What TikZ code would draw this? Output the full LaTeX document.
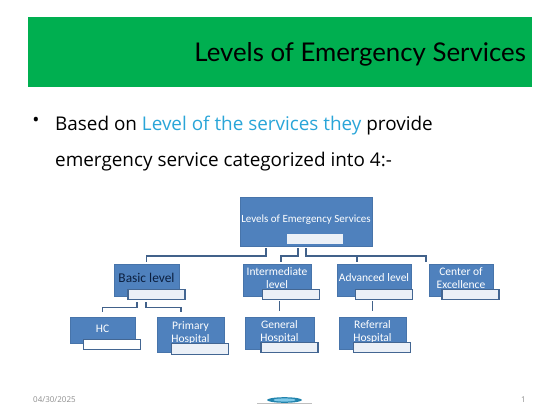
\documentclass[tikz,border=0pt]{standalone}
\usepackage{fontspec}
\setmainfont{Open Sans}
\newfontfamily\headfont{Lato}
\newfontfamily\boxfont{Carlito}
\usepackage{tikz}
\definecolor{banner}{HTML}{00AF50}
\definecolor{lvlblue}{HTML}{4F81BD}
\definecolor{lvledge}{HTML}{41618A}
\definecolor{accent}{HTML}{2AA5D8}
\definecolor{tagfill}{HTML}{EBF0F7}
\definecolor{navytext}{HTML}{0B1F3F}
\tikzset{
  lvl/.style={fill=lvlblue,draw=lvlblue!90!black,line width=0.4pt,inner sep=0pt,text=white,align=center,
    font=\boxfont\fontsize{11.5}{13}\selectfont},
  tag/.style={fill=tagfill,draw=lvledge!85!lvlblue,line width=1.1pt,inner sep=0pt,minimum height=10.5pt,minimum width=57pt},
  link/.style={draw=lvledge,line width=1.5pt},
  foot/.style={text=black!45,font=\fontsize{8}{10}\selectfont,inner sep=0pt}
}
\begin{document}
\begin{tikzpicture}[x=1pt,y=-1pt]
  \useasboundingbox (0,0) rectangle (560,420);
  \fill[banner] (28,17) rectangle (532,87);
  \node[anchor=east,inner sep=0pt,font=\headfont\fontsize{25.8}{30}\selectfont] (title) at (526,54) {Levels of Emergency Services};
  \node[inner sep=0pt,font=\fontsize{19}{20}\selectfont] (bullet) at (36,122) {•};
  \node[anchor=base west,inner sep=0pt,font=\fontsize{18.9}{20}\selectfont] (lineA) at (55,131)
    {Based on \textcolor{accent}{Level of the services they} provide};
  \node[anchor=base west,inner sep=0pt,font=\fontsize{18.9}{20}\selectfont] (lineB) at (55,166)
    {emergency service categorized into 4:-};

  % level boxes
  \node[lvl,minimum width=132pt,minimum height=49pt,text depth=24pt,text height=25pt,font=\boxfont\fontsize{11}{13}\selectfont] (root) at (306,221.5) {Levels of Emergency Services};
  \node[lvl,minimum width=65pt,minimum height=32pt,text depth=14pt,text height=18pt,text=navytext,font=\boxfont\fontsize{13.4}{15}\selectfont] (basic) at (146.5,280) {Basic level};
  \node[lvl,minimum width=68pt,minimum height=32pt,text depth=8pt,text height=24pt] (inter) at (277,280) {Intermediate\\level};
  \node[lvl,minimum width=74pt,minimum height=32pt,text depth=15pt,text height=17pt] (adv) at (374,280) {Advanced level};
  \node[lvl,minimum width=64pt,minimum height=32pt,text depth=8pt,text height=24pt] (coe) at (461,280) {Center of\\Excellence};
  \node[lvl,minimum width=65pt,minimum height=26pt,text depth=11pt,text height=15pt] (hc) at (102.5,330) {HC};
  \node[lvl,minimum width=67pt,minimum height=35pt,text depth=10pt,text height=25pt] (prim) at (190.5,334.5) {Primary\\Hospital};
  \node[lvl,minimum width=69pt,minimum height=32pt,text depth=8pt,text height=24pt] (gen) at (279.5,333) {General\\Hospital};
  \node[lvl,minimum width=67pt,minimum height=32pt,text depth=8pt,text height=24pt] (refh) at (372.5,333) {Referral\\Hospital};

  % tags over the boxes
  \node[tag,draw=none,minimum width=56pt] (root-tag) at (315,239) {};
  \node[tag] (basic-tag) at (156.5,294.5) {};
  \node[tag] (inter-tag) at (291,294.5) {};
  \node[tag] (adv-tag) at (384,294.5) {};
  \node[tag] (coe-tag) at (470.5,294.5) {};
  \node[tag,fill=white] (hc-tag) at (112,344.5) {};
  \node[tag] (prim-tag) at (200,349) {};
  \node[tag] (gen-tag) at (289.5,347.5) {};
  \node[tag] (refh-tag) at (382,347.5) {};

  \draw[link] ([xshift=-40pt,yshift=-2pt]root.south) -- ++(0,8) -| ([yshift=2pt]basic.north);
  \draw[link] ([xshift=-8pt,yshift=-2pt]root.south) -- ++(0,8) -| ([xshift=4pt,yshift=2pt]inter.north);
  \draw[link] ([yshift=-2pt]root.south) -- ++(0,8) -| ([xshift=-35pt,yshift=2pt]coe.north);
  \draw[link] ([xshift=-17pt,yshift=8pt]adv.north) -- ([xshift=-17pt,yshift=2pt]adv.north);
  \draw[link] ([xshift=-19.5pt,yshift=-2pt]basic-tag.south) -- ++(0,5) -| ([yshift=5pt]hc.north);
  \draw[link] ([xshift=-10.5pt,yshift=-2pt]basic-tag.south) -- ++(0,5) -| ([xshift=-9.5pt,yshift=5pt]prim.north);
  \draw[link,shorten <=1pt,shorten >=6pt] (inter-tag.south -| gen.north) -- (gen.north);
  \draw[link,shorten <=1pt,shorten >=6pt] (adv-tag.south -| refh.north) -- (refh.north);

  % footer
  \node[foot,anchor=west] (date) at (33,400) {04/30/2025};
  \node[foot,anchor=east] (page) at (526,400) {1};
  \fill[black!25] (257,403.2) rectangle (312,404);
  \fill[accent!80!black] (284.5,400) ellipse [x radius=17.5,y radius=2.8];
  \fill[accent!60] (284.5,400) ellipse [x radius=11,y radius=1.6];
\end{tikzpicture}
\end{document}
